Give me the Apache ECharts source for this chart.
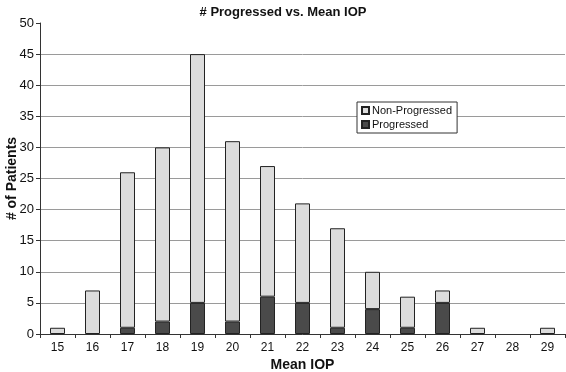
<!DOCTYPE html>
<html><head><meta charset="utf-8">
<script src="https://cdn.jsdelivr.net/npm/echarts@6/dist/echarts.min.js"></script>
<style>html,body{margin:0;padding:0;background:#fff}#c{width:566px;height:372px}</style>
</head><body><div id="c"></div>
<script>
const categories = ['15','16','17','18','19','20','21','22','23','24','25','26','27','28','29'];
const progressed = [0,0,1,2,5,2,6,5,1,4,1,5,0,0,0];
const nonProgressed = [1,7,25,28,40,29,21,16,16,6,5,2,1,0,1];
const yTicks = [0,5,10,15,20,25,30,35,40,45,50];

const font = 'Liberation Sans, Arial, sans-serif';
const chart = echarts.init(document.getElementById('c'), null, {renderer:'canvas'});
const gridColors = yTicks.map((v,i)=> i===yTicks.length-1 ? 'rgba(0,0,0,0)' : '#9a9a9a');
const nz = a => a.map(v => v === 0 ? null : v);
chart.setOption({
  animation:false,
  backgroundColor:'#fff',
  title:{text:'# Progressed vs. Mean IOP', left:278, top:1, textAlign:'center',
    textStyle:{fontFamily:font, fontSize:13, fontWeight:'bold', color:'#111'}},
  legend:{
    data:['Non-Progressed','Progressed'], orient:'vertical', left:357, top:102,
    itemWidth:7, itemHeight:7, itemGap:3, padding:[3,5,3,4],
    borderColor:'#333', borderWidth:1, backgroundColor:'#fff',
    textStyle:{fontFamily:font, fontSize:11, color:'#111', padding:[0,0,0,-2]},
    icon:'rect'
  },
  grid:{left:40, right:1, top:23, bottom:38, containLabel:false, outerBoundsMode:'none'},
  xAxis:{type:'category', data:categories,
    name:'Mean IOP', nameLocation:'middle', nameGap:24, nameMoveOverlap:false,
    nameTextStyle:{fontFamily:font, fontSize:14, fontWeight:'bold', color:'#111'},
    axisLine:{lineStyle:{color:'#333'}},
    axisTick:{show:true, alignWithLabel:false, length:4, lineStyle:{color:'#333'}},
    axisLabel:{fontFamily:font, fontSize:12, color:'#111', margin:8}
  },
  yAxis:{type:'value', min:0, max:50, interval:5,
    name:'# of Patients', nameLocation:'middle', nameGap:21, nameRotate:90, nameMoveOverlap:false,
    nameTextStyle:{fontFamily:font, fontSize:14, fontWeight:'bold', color:'#111'},
    axisLine:{show:true, lineStyle:{color:'#333'}},
    axisTick:{show:true, length:4, lineStyle:{color:'#333'}},
    axisLabel:{fontFamily:font, fontSize:13, color:'#111', margin:6},
    splitLine:{show:true, lineStyle:{color:gridColors, width:1}}
  },
  series:[
    {name:'Progressed', type:'bar', stack:'a', data:nz(progressed), barWidth:15,
      itemStyle:{color:'#4a4a4a', borderColor:'#222', borderWidth:1}},
    {name:'Non-Progressed', type:'bar', stack:'a', data:nz(nonProgressed), barWidth:15,
      itemStyle:{color:'#dcdcdc', borderColor:'#222', borderWidth:1}}
  ]
});
</script></body></html>
